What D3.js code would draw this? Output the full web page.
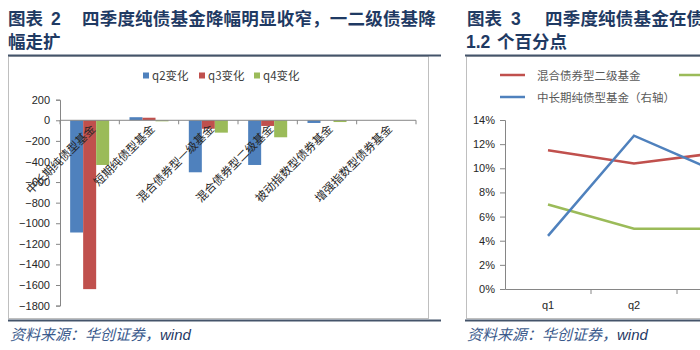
<!DOCTYPE html>
<html><head><meta charset="utf-8">
<script src="https://cdn.jsdelivr.net/npm/d3@7"></script>
<style>
html,body{margin:0;padding:0;background:#fff;}
svg{display:block;}
</style></head>
<body>
<svg id="c" width="700" height="350"></svg>
<script>
// ---------- data: left chart ----------
const barCategories = ["中长期纯债型基金","短期纯债型基金","混合债券型一级基金","混合债券型二级基金","被动指数型债券基金","增强指数型债券基金"];
const barSeriesNames = ["q2变化","q3变化","q4变化"];
const q2Change = [-1090, 30, -505, -434, -26, 0];
const q3Change = [-1640, 25, -82, -55, 0, 0];
const q4Change = [-434, -10, -120, -165, -17, 0];
const barTicks = [200, 0, -200, -400, -600, -800, -1000, -1200, -1400, -1600, -1800];

// ---------- data: right chart ----------
const lineCategories = ["q1","q2","q3","q4"];
const lineSeriesNames = ["混合债券型二级基金","混合债券型一级基金","中长期纯债型基金（右轴）"];
const mixed2Share = [0.115, 0.104, 0.113];
const mixed1Share = [0.070, 0.050, 0.050];
const longPureShare = [0.044, 0.127, 0.096];
const lineTicks = [0, 0.02, 0.04, 0.06, 0.08, 0.10, 0.12, 0.14];

const titleLeft1 = "四季度纯债基金降幅明显收窄，一二级债基降";
const titleLeft2 = "幅走扩";
const titleRight1 = "四季度纯债基金在债券仓位上下降约";
const titleRight2 = "个百分点";

const svg = d3.select("#c");
const CJK = "'Noto Sans CJK SC','Noto Sans',sans-serif";
const NUM = "'Liberation Sans',Arial,sans-serif";
const navy = "#1F3A63";
const barColors = ["#4F81BD","#C0504D","#9BBB59"];

// ---------- titles ----------
const tl = svg.append("text").attr("y", 24.5).attr("fill", navy).attr("font-weight","bold").attr("font-size",17.5).attr("font-family",CJK);
tl.append("tspan").attr("x", 8).text("图表");
tl.append("tspan").attr("x", 51).attr("font-family", NUM).text("2");
tl.append("tspan").attr("x", 82).attr("letter-spacing", 0.2).text(titleLeft1);
svg.append("text").attr("x", 8).attr("y", 48).attr("fill", navy).attr("font-weight","bold").attr("font-size",17.5).attr("font-family",CJK).text(titleLeft2);

const tr = svg.append("text").attr("y", 24.5).attr("fill", navy).attr("font-weight","bold").attr("font-size",17.5).attr("font-family",CJK);
tr.append("tspan").attr("x", 467).text("图表");
tr.append("tspan").attr("x", 511).attr("font-family", NUM).text("3");
tr.append("tspan").attr("x", 545).attr("letter-spacing", 0.2).text(titleRight1);
const tr2 = svg.append("text").attr("y", 48).attr("fill", navy).attr("font-weight","bold").attr("font-size",17.5).attr("font-family",CJK);
tr2.append("tspan").attr("x", 466).attr("font-family", NUM).text("1.2");
tr2.append("tspan").attr("x", 497).text(titleRight2);

// ---------- frames ----------
svg.append("rect").attr("x", 8.5).attr("y", 56.5).attr("width", 420).attr("height", 262).attr("fill","none").attr("stroke","#BFBFBF");
svg.append("rect").attr("x", 466.5).attr("y", 56.5).attr("width", 300).attr("height", 262).attr("fill","none").attr("stroke","#BFBFBF");
svg.append("line").attr("x1", 8).attr("x2", 441).attr("y1", 55.5).attr("y2", 55.5).attr("stroke","#44546A").attr("stroke-width",2);
svg.append("line").attr("x1", 465).attr("x2", 700).attr("y1", 55.5).attr("y2", 55.5).attr("stroke","#44546A").attr("stroke-width",2);
svg.append("line").attr("x1", 8).attr("x2", 441).attr("y1", 320.5).attr("y2", 320.5).attr("stroke","#44546A").attr("stroke-width",2);
svg.append("line").attr("x1", 465).attr("x2", 700).attr("y1", 320.5).attr("y2", 320.5).attr("stroke","#44546A").attr("stroke-width",2);

// ---------- source lines ----------
function source(x) {
  const s = svg.append("text").attr("x", x).attr("y", 340).attr("font-size", 15).attr("font-style","italic");
  s.append("tspan").attr("fill", "#3B5A8C").attr("font-family", CJK).text("资料来源：华创证券，");
  s.append("tspan").attr("fill", "#1F3864").attr("font-family", NUM).text("wind");
}
source(10);
source(467);

// ---------- left bar chart ----------
const yB = d3.scaleLinear().domain([-1800, 200]).range([305.6, 99.7]);
const x0 = d3.scaleBand().domain(barCategories).range([60, 416]).paddingInner(0).paddingOuter(0);
const x1 = d3.scaleBand().domain(barSeriesNames).range([0, x0.bandwidth()]).paddingInner(0).paddingOuter(0.78);
const barValues = [q2Change, q3Change, q4Change];

const gB = svg.append("g");
barSeriesNames.forEach((s, si) => {
  gB.append("g").selectAll("rect").data(barCategories).join("rect")
    .attr("x", c => x0(c) + x1(s))
    .attr("width", x1.bandwidth())
    .attr("y", (c, i) => yB(Math.max(0, barValues[si][i])))
    .attr("height", (c, i) => Math.abs(yB(barValues[si][i]) - yB(0)))
    .attr("fill", barColors[si]);
});

const axL = svg.append("g").attr("transform","translate(60,0)")
  .call(d3.axisLeft(yB).tickValues(barTicks).tickSize(4).tickPadding(6).tickFormat(d3.format("d")));
axL.select(".domain").attr("stroke","#868686");
axL.selectAll(".tick line").attr("stroke","#868686");
axL.selectAll("text").attr("font-family", NUM).attr("font-size", 11).attr("fill","#262626");

const bounds = barCategories.map(c => x0(c)).concat([x0.range()[1]]);
svg.append("line").attr("x1", 60).attr("x2", 416).attr("y1", yB(0)).attr("y2", yB(0)).attr("stroke","#868686");
svg.append("g").selectAll("line").data(bounds).join("line")
  .attr("x1", d => d).attr("x2", d => d).attr("y1", yB(0)).attr("y2", yB(0) + 4).attr("stroke","#868686");

svg.append("g").selectAll("text").data(barCategories).join("text")
  .attr("transform", c => `translate(${x0(c) + x0.bandwidth()/2 + 6.5},${yB(0) + 9.5}) rotate(-45)`)
  .attr("text-anchor","end")
  .attr("font-family", CJK).attr("font-size", 11.5).attr("fill","#262626")
  .text(c => c);

const legX = [143, 199, 254];
barSeriesNames.forEach((s, i) => {
  svg.append("rect").attr("x", legX[i]).attr("y", 72.5).attr("width", 6).attr("height", 6).attr("fill", barColors[i]);
  svg.append("text").attr("x", legX[i] + 9).attr("y", 80).attr("font-family", CJK).attr("font-size", 11.5).attr("fill","#404040").text(s);
});

// ---------- right line chart ----------
svg.append("clipPath").attr("id","rc").append("rect").attr("x", 467).attr("y", 57).attr("width", 233).attr("height", 262);
const gR = svg.append("g").attr("clip-path","url(#rc)");
const xL = d3.scaleBand().domain(lineCategories).range([505, 849]);
const yL = d3.scaleLinear().domain([0, 0.14]).range([289, 120]);
const yR = d3.scaleLinear().domain([0, 0.14]).range([289, 120]);
const visibleCats = lineCategories.filter(c => xL(c) + xL.bandwidth()/2 + 8 < 700);

const axRL = gR.append("g").attr("transform","translate(505,0)")
  .call(d3.axisLeft(yL).tickValues(lineTicks).tickSize(5).tickPadding(5).tickFormat(d3.format(".0%")));
axRL.select(".domain").attr("stroke","#868686");
axRL.selectAll(".tick line").attr("stroke","#868686");
axRL.selectAll("text").attr("font-family", NUM).attr("font-size", 11).attr("fill","#262626");

const axB = gR.append("g").attr("transform",`translate(0,${yL(0)})`)
  .call(d3.axisBottom(xL).tickValues(visibleCats).tickSize(0).tickPadding(12));
axB.select(".domain").attr("stroke","#868686");
axB.selectAll("text").attr("font-family", NUM).attr("font-size", 11).attr("fill","#262626");
gR.append("g").selectAll("line").data(lineCategories.slice(1)).join("line")
  .attr("x1", c => xL(c)).attr("x2", c => xL(c)).attr("y1", yL(0)).attr("y2", yL(0) + 5).attr("stroke","#868686");

const lineColors = ["#C0504D","#9BBB59","#4F81BD"];
const lineData = [mixed2Share, mixed1Share, longPureShare];
const lineScales = [yL, yL, yR];
lineData.forEach((vals, si) => {
  const ln = d3.line().x((v, i) => xL(lineCategories[i]) + xL.bandwidth()/2).y(v => lineScales[si](v));
  gR.append("path").attr("d", ln(vals)).attr("fill","none").attr("stroke", lineColors[si]).attr("stroke-width", 2.5);
});

const legR = [[500, 75], [679, 75], [500, 97]];
lineSeriesNames.forEach((s, i) => {
  gR.append("line").attr("x1", legR[i][0]).attr("x2", legR[i][0] + 25).attr("y1", legR[i][1]).attr("y2", legR[i][1]).attr("stroke", lineColors[i]).attr("stroke-width", 2.5);
  if (legR[i][0] + 37 < 700) {
    gR.append("text").attr("x", legR[i][0] + 37).attr("y", legR[i][1] + 4.5).attr("font-family", CJK).attr("font-size", 11.5).attr("fill","#595959").text(s);
  }
});
</script>
</body></html>
